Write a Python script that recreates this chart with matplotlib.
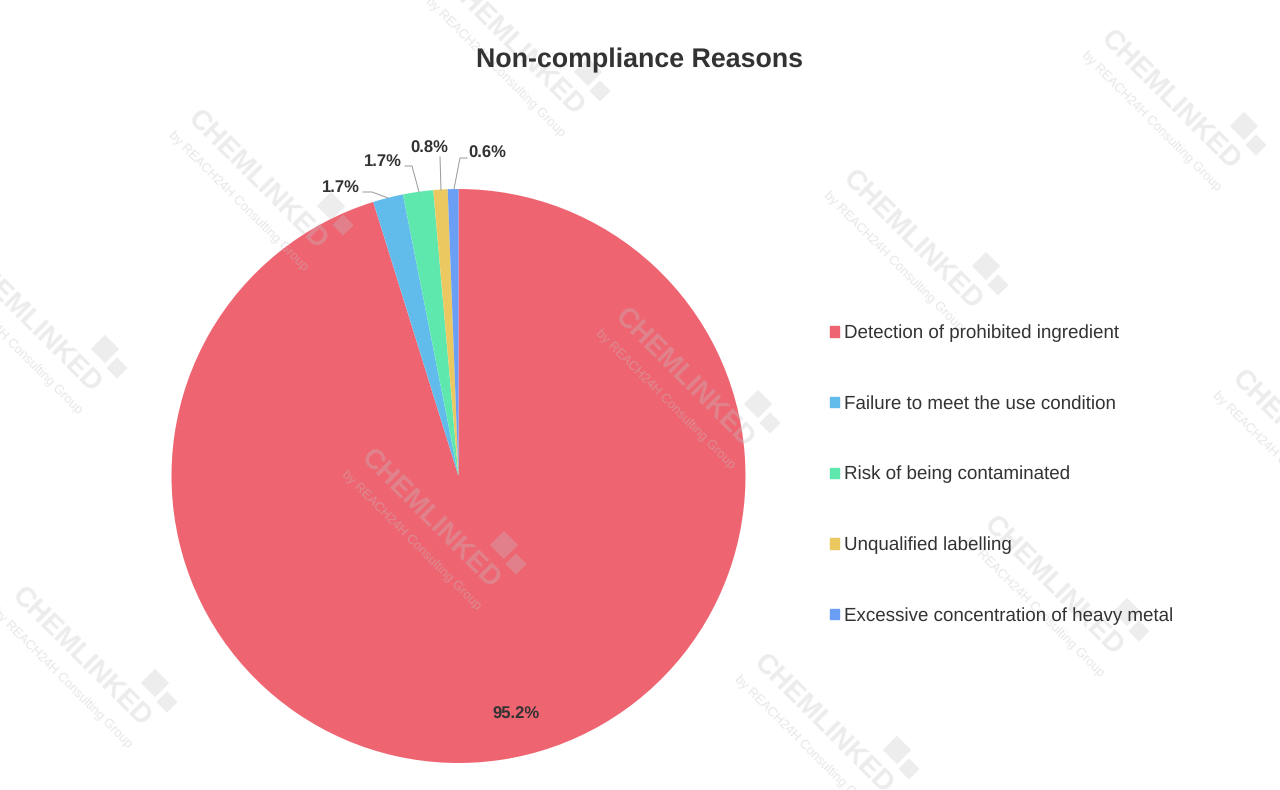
import matplotlib
matplotlib.use("Agg")
import matplotlib.pyplot as plt
from matplotlib.patches import Patch

plt.rcParams['font.family'] = ['Liberation Sans', 'DejaVu Sans']
plt.rcParams['text.hinting'] = 'no_hinting'

TITLE = "Non-compliance Reasons"
reasons = ["Detection of prohibited ingredient", "Failure to meet the use condition",
	"Risk of being contaminated", "Unqualified labelling", "Excessive concentration of heavy metal"]
shares = [95.2, 1.7, 1.7, 0.8, 0.6]
colors = ["#ee6471", "#62bceb", "#5ee8ad", "#ecc960", "#6a9ff5"]

W, H = 1280, 790
CX, CY, R = 458.5, 476, 287

# label centre, then the leader line points, all in pixels
label_pos = [(516, 714), (341, 187), (383, 161), (429, 148), (487, 153)]
leaders = [None,
	[(363, 192), (372, 192), (388, 198)],
	[(405, 166), (412, 166), (419, 192)],
	[(440, 157), (441, 190)],
	[(467, 158), (460, 158), (454, 189)]]

# centre of each "CHEMLINKED" watermark
marks = [(258, 180), (515, 46), (1171, 100), (913, 240), (685, 378), (431, 519),
	(1054, 586), (824, 724), (82, 657), (32, 323), (1302, 440)]

fig = plt.figure(figsize=(W / 100, H / 100), dpi=100, facecolor="white")

ax = fig.add_axes([(CX - R) / W, 1 - (CY + R) / H, 2 * R / W, 2 * R / H])
ax.pie(shares, colors=colors, startangle=90, counterclock=False, radius=1)
ax.set_xlim(-1, 1)
ax.set_ylim(-1, 1)

# overlay in pixel coordinates
over = fig.add_axes([0, 0, 1, 1])
over.set_xlim(0, W)
over.set_ylim(H, 0)
over.axis("off")
over.patch.set_alpha(0)

for mx, my in marks:
	over.text(mx, my, "CHEMLINKED", rotation=-45, rotation_mode="anchor", ha="center", va="center",
		fontsize=20, fontweight="bold", color="#c4c4c4", alpha=0.32, clip_on=True)
	over.text(mx - 20, my + 21, "by REACH24H Consulting Group", rotation=-45, rotation_mode="anchor",
		ha="center", va="center", fontsize=9.4, color="#c4c4c4", alpha=0.4, clip_on=True)
	over.scatter([mx + 73, mx + 85], [my + 26, my + 45], marker="D", s=[207, 117],
		color="#c4c4c4", alpha=0.3, linewidths=0, clip_on=True)

for (lx, ly), share in zip(label_pos, shares):
	over.text(lx, ly, "%.1f%%" % share, ha="center", va="center", fontsize=12,
		fontweight="bold", color="#333333")
for pts in leaders:
	if pts:
		over.plot([p[0] for p in pts], [p[1] for p in pts], color="#999999", lw=0.7)

over.text(639.5, 60, TITLE, ha="center", va="center", fontsize=19.3, fontweight="bold", color="#333333")

handles = [Patch(color=c, label=r) for c, r in zip(colors, reasons)]
over.legend(handles=handles, loc="center left", bbox_to_anchor=(830, 474.5), bbox_transform=over.transData,
	frameon=False, fontsize=13.5, labelcolor="#333333", labelspacing=2.82,
	handlelength=0.48, handleheight=0.48, handletextpad=0.27, borderpad=0, borderaxespad=0)

fig.savefig("out.png", dpi=100)
